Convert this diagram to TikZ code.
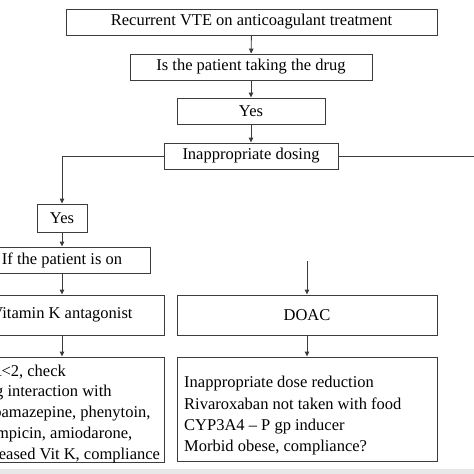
\documentclass[tikz,border=0pt]{standalone}
\usepackage{fontspec}
\setmainfont{Liberation Serif}
\usepackage{tikz}
\usetikzlibrary{positioning,arrows.meta}
\definecolor{boxline}{RGB}{60,60,60}
\definecolor{bandgray}{RGB}{232,232,232}
\tikzset{
  flowbox/.style  = {draw=boxline, line width=0.9pt, rectangle, inner sep=0pt,
                     minimum height=26pt, font=\fontsize{16.5}{21}\selectfont},
  notebox/.style  = {draw=boxline, line width=0.9pt, rectangle, inner sep=0pt},
  notetext/.style = {anchor=north west, inner sep=0pt, align=left,
                     font=\fontsize{16.5}{21.4}\selectfont},
  flowarrow/.style = {-{Triangle[length=5pt,width=4.5pt]}, line width=0.9pt, boxline},
  flowline/.style  = {line width=0.9pt, boxline}
}
\begin{document}
\begin{tikzpicture}[x=1pt, y=-1pt]
  \useasboundingbox (0,0) rectangle (474,474);
  \clip (0,0) rectangle (474,474);
  \fill[white] (0,0) rectangle (474,474);
  \fill[bandgray] (0,469) rectangle (474,474);
  % Main column
  \node[flowbox, minimum width=371pt] (vte)    at (251.5, 22) {Recurrent VTE on anticoagulant treatment};
  \node[flowbox, minimum width=242pt] (taking) at (251, 67)   {Is the patient taking the drug};
  \node[flowbox, minimum width=148pt] (yesa)   at (251, 111)  {Yes};
  \node[flowbox, minimum width=174pt] (dosing) at (251, 156)  {Inappropriate dosing};
  % Left branch
  \node[flowbox, minimum width=50pt, minimum height=28pt] (yesb) at (62, 218) {Yes};
  \node[flowbox, minimum width=176pt] (ifon)   at (62, 260)   {If the patient is on};
  \node[flowbox, minimum width=204pt, minimum height=40pt] (vka)  at (62, 315)  {Vitamin K antagonist};
  \node[flowbox, minimum width=260pt, minimum height=40pt] (doac) at (307, 315) {DOAC};
  % Detail boxes
  \node[notebox, minimum width=204pt, minimum height=105pt] (vkanote)  at (62, 409.5) {};
  \node[notebox, minimum width=260pt, minimum height=104pt] (doacnote) at (307, 409) {};
  \node[notetext, font=\fontsize{16.5}{20.8}\selectfont] (vkatext) at (-27, 364.5)
    {INR<2, check\\drug interaction with\\carbamazepine, phenytoin,\\rifampicin, amiodarone,\\increased Vit K, compliance};
  \node[notetext] (doactext) at (184, 376)
    {Inappropriate dose reduction\\Rivaroxaban not taken with food\\CYP3A4 -- P gp inducer\\Morbid obese, compliance?};
  % Free ends
  \coordinate (rightend) at (480, 156);
  \coordinate (doacin)   at (307, 261);
  % Connectors
  \draw[flowarrow] (vte) -- (taking);
  \draw[flowarrow] (taking) -- (yesa);
  \draw[flowarrow] (yesa) -- (dosing);
  \draw[flowarrow] (dosing.west) -| (yesb.north);
  \draw[flowline]  (dosing.east) -- (rightend);
  \draw[flowarrow] (yesb) -- (ifon);
  \draw[flowarrow] (ifon) -- (vka);
  \draw[flowarrow] (doacin) -- (doac.north);
  \draw[flowarrow] (vka) -- (vkanote);
  \draw[flowarrow] (doac) -- (doacnote);
\end{tikzpicture}
\end{document}
